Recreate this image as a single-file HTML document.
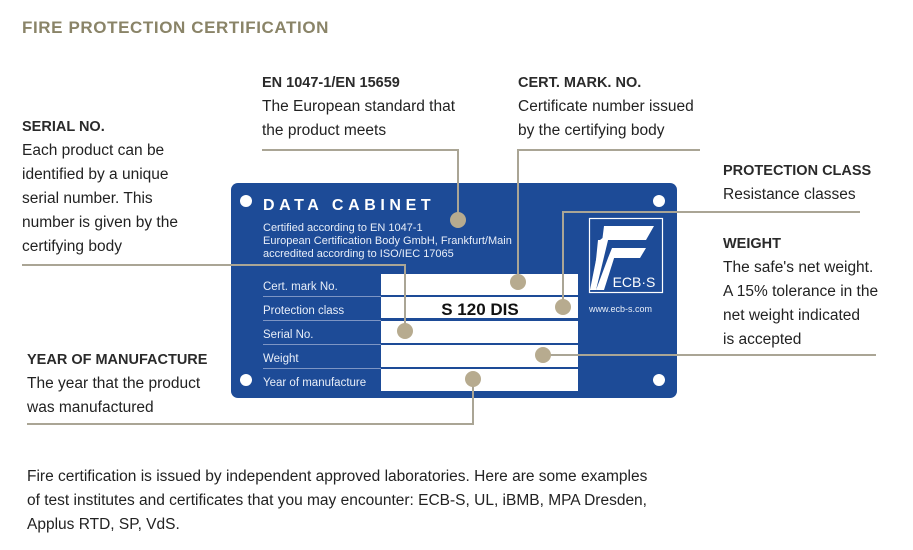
<!DOCTYPE html>
<html><head><meta charset="utf-8"><style>
html,body{margin:0;padding:0;background:#fff;}
body{width:913px;height:550px;position:relative;overflow:hidden;font-family:"Liberation Sans",sans-serif;color:#222;}
.t{position:absolute;font-size:15.5px;line-height:24px;white-space:nowrap;}
.h{font-weight:bold;color:#2a2a2a;font-size:14.5px;}
</style></head><body>
<div class="t" style="left:22px;top:16px;font-size:17px;font-weight:bold;color:#8a8468;letter-spacing:0.6px;">FIRE PROTECTION CERTIFICATION</div>
<div class="t" style="left:262px;top:71px;"><span class="h">EN 1047-1/EN 15659</span><br>The European standard that<br>the product meets</div>
<div class="t" style="left:22px;top:115px;"><span class="h">SERIAL NO.</span><br>Each product can be<br>identified by a unique<br>serial number. This<br>number is given by the<br>certifying body</div>
<div class="t" style="left:518px;top:71px;"><span class="h">CERT. MARK. NO.</span><br>Certificate number issued<br>by the certifying body</div>
<div class="t" style="left:723px;top:159px;"><span class="h">PROTECTION CLASS</span><br>Resistance classes</div>
<div class="t" style="left:723px;top:232px;"><span class="h">WEIGHT</span><br>The safe's net weight.<br>A 15% tolerance in the<br>net weight indicated<br>is accepted</div>
<div class="t" style="left:27px;top:348px;"><span class="h">YEAR OF MANUFACTURE</span><br>The year that the product<br>was manufactured</div>
<div class="t" style="left:27px;top:465px;">Fire certification is issued by independent approved laboratories. Here are some examples<br>of test institutes and certificates that you may encounter: ECB-S, UL, iBMB, MPA Dresden,<br>Applus RTD, SP, VdS.</div>

<svg width="913" height="550" style="position:absolute;left:0;top:0" xmlns="http://www.w3.org/2000/svg">
<rect x="231" y="183" width="446" height="215" rx="7" fill="#1d4b97"/>
<g fill="#fff">
<circle cx="246" cy="201" r="6"/><circle cx="659" cy="201" r="6"/>
<circle cx="246" cy="380" r="6"/><circle cx="659" cy="380" r="6"/>
<rect x="381" y="274" width="197" height="21"/>
<rect x="381" y="297" width="197" height="21"/>
<rect x="381" y="321" width="197" height="22"/>
<rect x="381" y="345" width="197" height="22"/>
<rect x="381" y="369" width="197" height="22"/>
</g>
<g stroke="#7d95c4" stroke-width="1">
<line x1="263" y1="296.5" x2="381" y2="296.5"/><line x1="263" y1="320.5" x2="381" y2="320.5"/>
<line x1="263" y1="344.5" x2="381" y2="344.5"/><line x1="263" y1="368.5" x2="381" y2="368.5"/>
</g>
<text x="263" y="210" fill="#fff" font-family="Liberation Sans" font-weight="bold" font-size="16" letter-spacing="4.6">DATA CABINET</text>
<g fill="#e8eef8" font-family="Liberation Sans" font-size="11">
<text x="263" y="231">Certified according to EN 1047-1</text>
<text x="263" y="244">European Certification Body GmbH, Frankfurt/Main</text>
<text x="263" y="257">accredited according to ISO/IEC 17065</text>
<text x="263" y="290" font-size="11.5">Cert. mark No.</text>
<text x="263" y="314" font-size="11.5">Protection class</text>
<text x="263" y="338" font-size="11.5">Serial No.</text>
<text x="263" y="362" font-size="11.5">Weight</text>
<text x="263" y="386" font-size="11.5">Year of manufacture</text>
<text x="589" y="312" font-size="9">www.ecb-s.com</text>
</g>
<text x="480" y="315" text-anchor="middle" font-family="Liberation Sans" font-weight="bold" font-size="17" fill="#111">S 120 DIS</text>
<rect x="589.5" y="218.5" width="73" height="74" fill="none" stroke="#fff" stroke-width="1.2"/>
<g fill="#fff">
<polygon points="604,226 654,226 646,240 598,240 594,280 590,290 596,290"/>
<polygon points="600,240 610,232 596,290 590,290"/>
<polygon points="612,248 646,248 640,258 608,258"/>
<polygon points="608,258 616,252 604,290 596,290"/>
</g>
<text x="634" y="287" text-anchor="middle" font-family="Liberation Sans" font-size="14" fill="#fff">ECB·S</text>
<g stroke="#aaa595" stroke-width="2" fill="none">
<polyline points="262,150 458,150 458,220"/>
<polyline points="700,150 518,150 518,282"/>
<polyline points="860,212 563,212 563,307"/>
<polyline points="22,265 405,265 405,331"/>
<polyline points="543,355 876,355"/>
<polyline points="27,424 473,424 473,379"/>
</g>
<g fill="#b7ab8f">
<circle cx="458" cy="220" r="8"/><circle cx="518" cy="282" r="8"/>
<circle cx="563" cy="307" r="8"/><circle cx="405" cy="331" r="8"/>
<circle cx="543" cy="355" r="8"/><circle cx="473" cy="379" r="8"/>
</g>
</svg>
</body></html>
